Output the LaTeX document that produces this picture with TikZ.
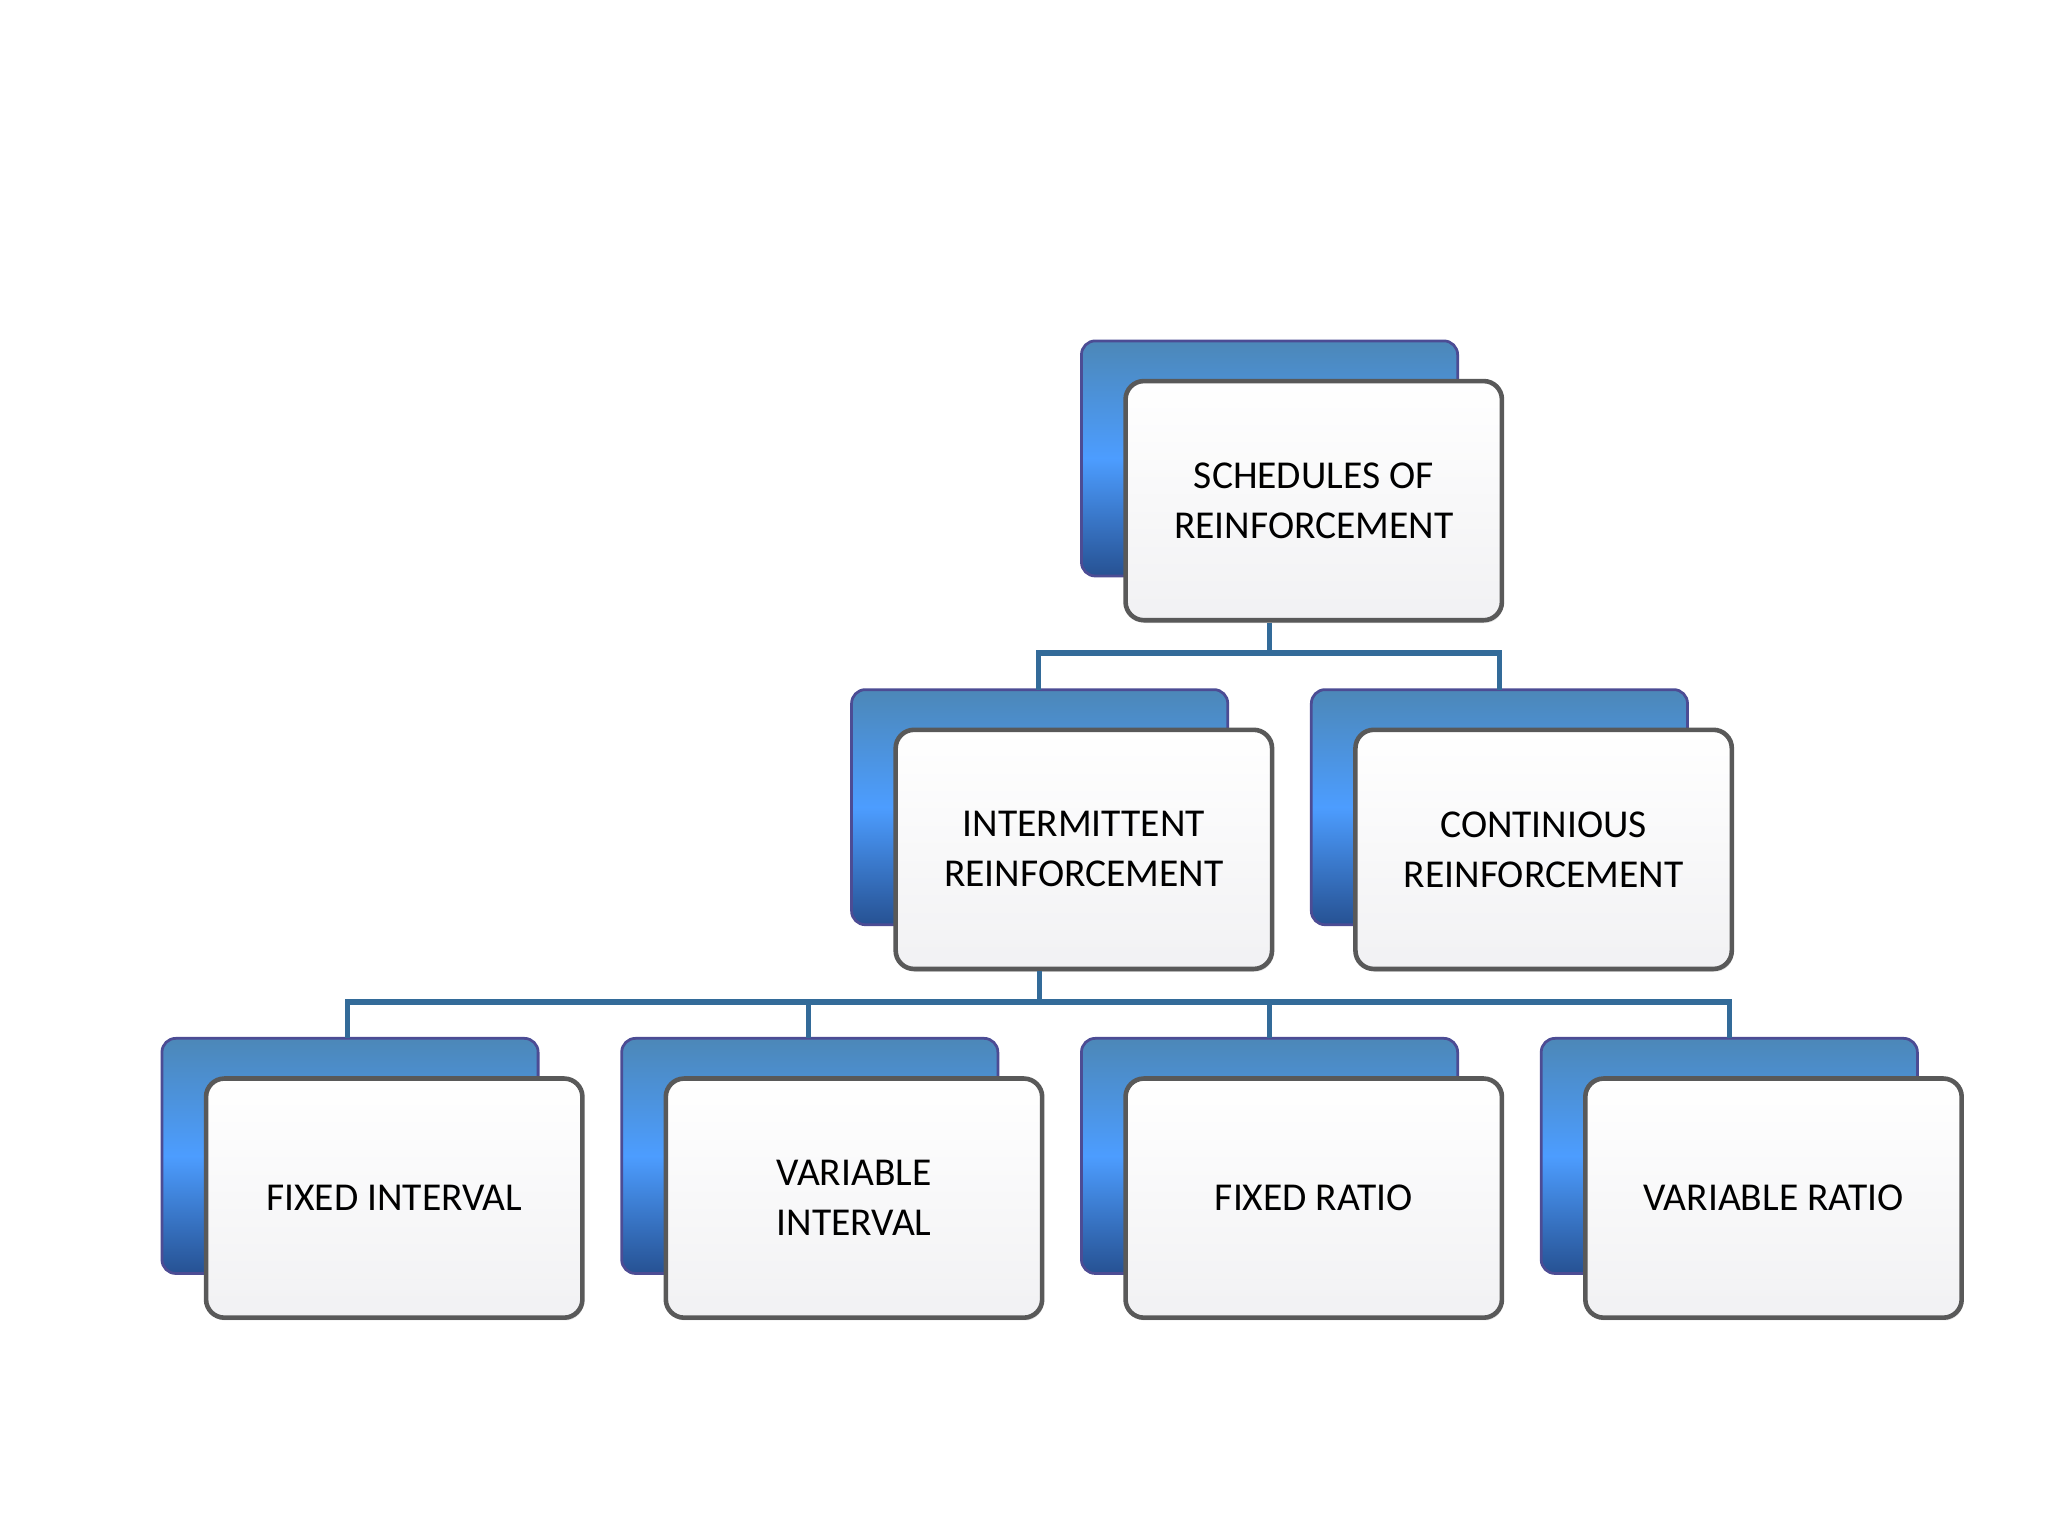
\documentclass[tikz,border=0pt]{standalone}
\usepackage{fontspec}
\setmainfont{Carlito}
\begin{document}
\begin{tikzpicture}[x=0.01cm,y=-0.01cm,
  back/.style={rounded corners=3pt,draw=blue!40!black!70,line width=0.6pt,top color=blue!45!cyan!60!black!70,bottom color=blue!60!cyan!50!black!85,middle color=blue!55!cyan!70!white},
  front/.style={rounded corners=4pt,draw=gray!70!black,line width=1pt,top color=white,bottom color=blue!8!gray!10,align=center,font=\fontsize{8.6}{10.9}\selectfont},
  conn/.style={draw=blue!45!cyan!50!black!80,line width=1.2pt}]
\useasboundingbox (0,0) rectangle (1568,1176);
\fill[white] (0,0) rectangle (1568,1176);
\newcommand{\mybox}[4]{%
  \fill[gray!40,opacity=0.5,rounded corners=4pt] (#2+3,#3+4) rectangle (#2+291,#3+187);
  \path[back] (#2-32,#3-29) rectangle (#2+256,#3+151);
  \node[front,minimum width=2.88cm,minimum height=1.83cm,anchor=north west] (#1) at (#2,#3) {#4};}
\mybox{top}{860}{290}{SCHEDULES OF\\REINFORCEMENT}
\mybox{inter}{684}{557}{INTERMITTENT\\REINFORCEMENT}
\mybox{cont}{1036}{557}{CONTINIOUS\\REINFORCEMENT}
\mybox{fi}{156}{824}{FIXED INTERVAL}
\mybox{vi}{508}{824}{VARIABLE\\INTERVAL}
\mybox{fr}{860}{824}{FIXED RATIO}
\mybox{vr}{1212}{824}{VARIABLE RATIO}
\coordinate (t1) at (972,500);
\coordinate (i1) at (796,767);
\draw[conn] (top.south -| t1) -- (t1);
\draw[conn] (795,528) -- (795,500) -- (1148,500) -- (1148,528);
\draw[conn] (inter.south -| i1) -- (i1);
\draw[conn] (266,795) -- (266,767) -- (1324,767) -- (1324,795);
\draw[conn] (619,767) -- (619,795);
\draw[conn] (972,767) -- (972,795);
\end{tikzpicture}
\end{document}
